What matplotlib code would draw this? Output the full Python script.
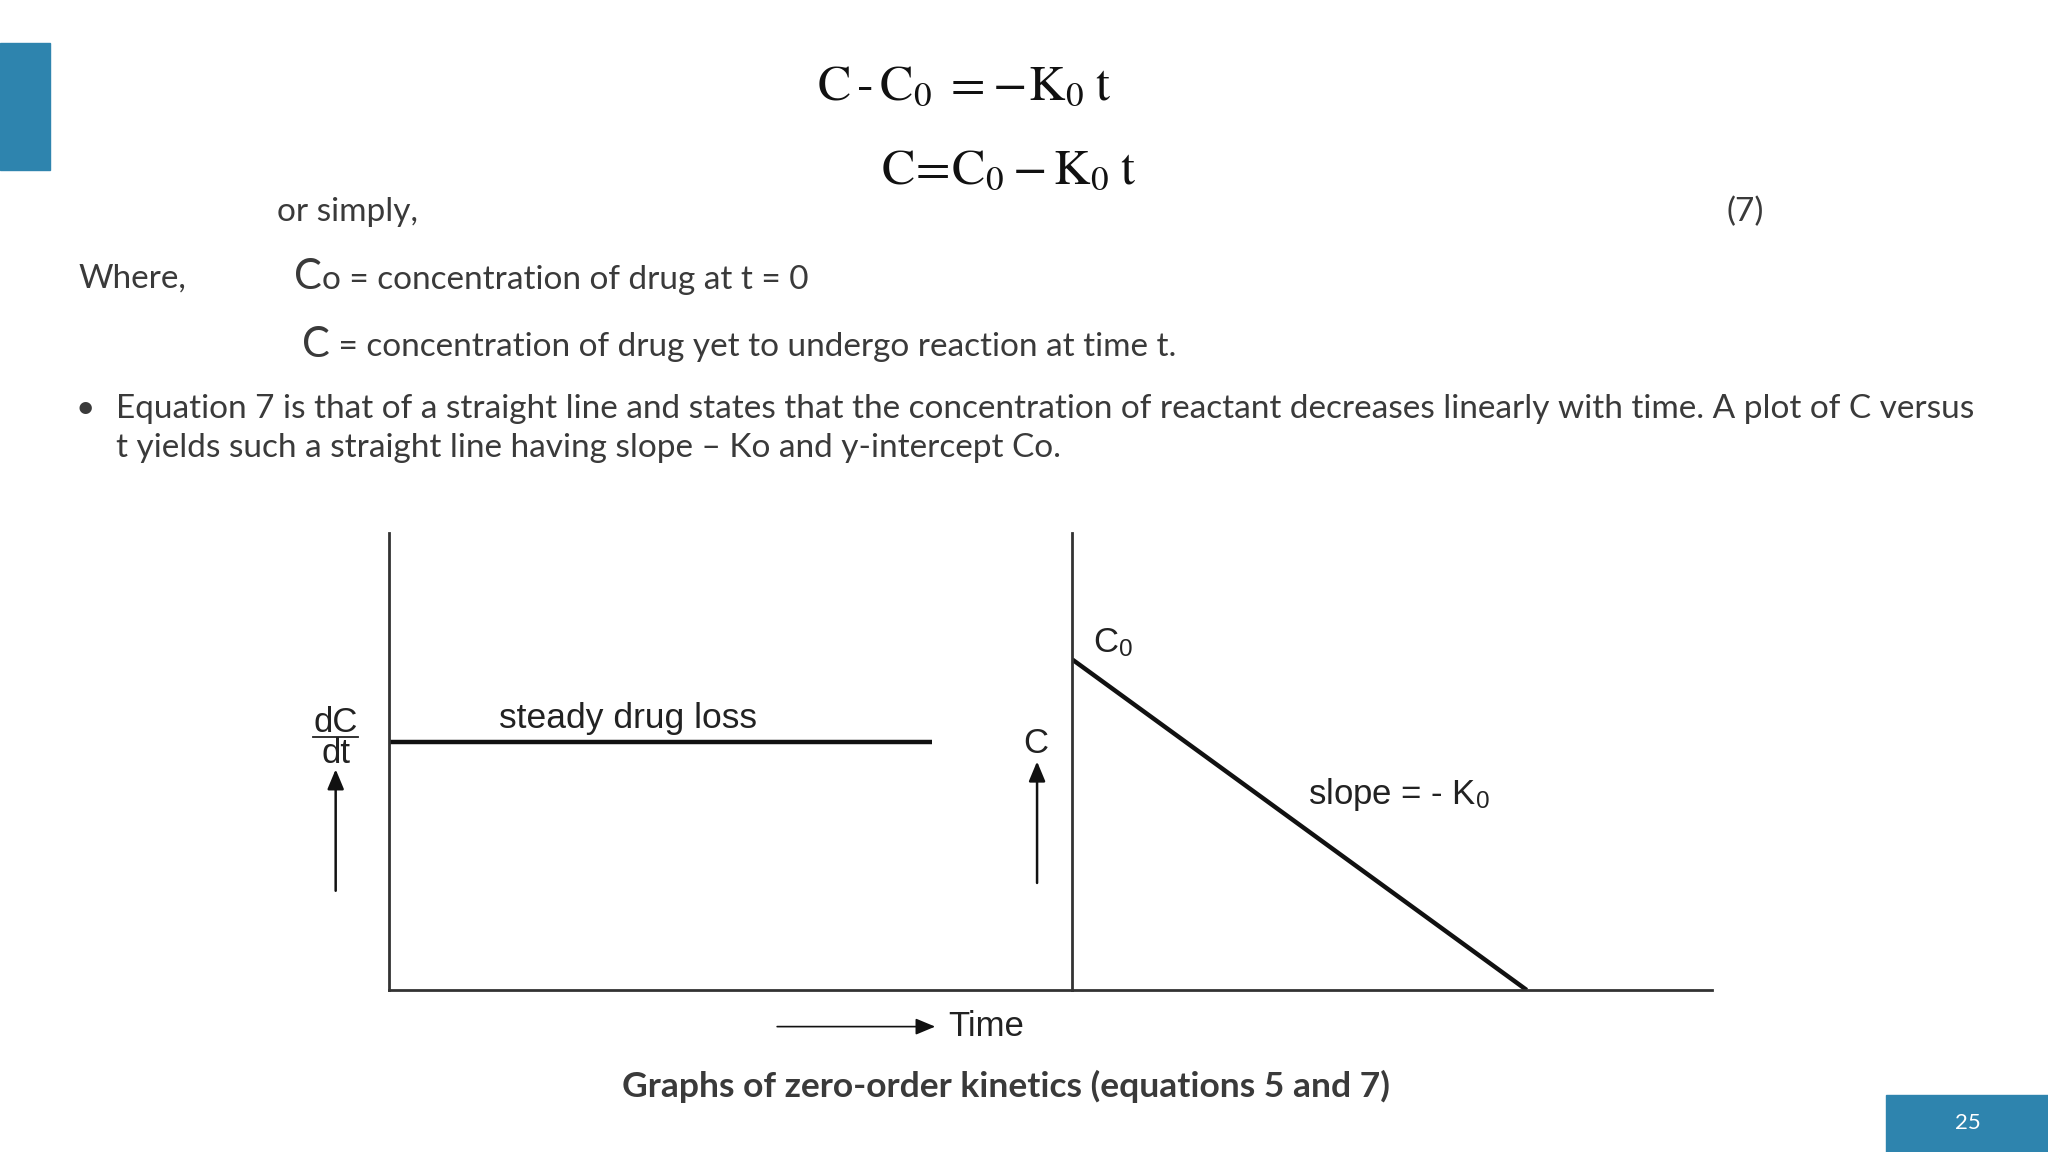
import matplotlib.pyplot as plt
from matplotlib.patches import Rectangle, FancyArrowPatch

# datos de las dos graficas (unidades arbitrarias)
tiempo_perdida = [0, 7.95]
tasa_perdida = [5.43, 5.43]
tiempo_conc = [0, 7.1]
concentracion = [7.23, 0]

azul = '#2E84AE'
gris = '#3A3A3A'
W, H = 1568.0, 882.0


def fx(x):
    return x / W


def fy(y):
    return 1 - y / H


fig = plt.figure(figsize=(20.48, 11.52), dpi=100)
fig.patch.set_facecolor('white')
plt.rcParams['mathtext.fontset'] = 'stix'

# barras azules de la plantilla
fig.patches.append(Rectangle((0, fy(130)), fx(38), fy(33) - fy(130),
                             transform=fig.transFigure, color=azul))
fig.patches.append(Rectangle((fx(1444), 0), 1 - fx(1444), fy(838),
                             transform=fig.transFigure, color=azul))
fig.text(fx(1507), fy(860), '25', color='white', fontsize=16,
         family='Lato', ha='center', va='center')

# ecuaciones
fig.text(fx(738), fy(66), r'$\mathrm{C\,\text{-}\,C_0\;=\!-\!K_0\;t}$', fontsize=36,
         ha='center', va='center', color='#111111')
fig.text(fx(772), fy(130), r'$\mathrm{C\!=\!C_0-K_0\;t}$', fontsize=36,
         ha='center', va='center', color='#111111')

cuerpo = dict(family='Lato', fontsize=24, color=gris, va='center')
fig.text(fx(212), fy(162), 'or simply,', **cuerpo)
fig.text(fx(1322), fy(162), '(7)', **cuerpo)
fig.text(fx(60), fy(213), 'Where,', **cuerpo)
c1 = fig.text(fx(225), fy(212), 'C', family='Lato', fontsize=30, color=gris, va='center')
fig.add_artist(plt.Annotation('o = concentration of drug at t = 0', xy=(1.0, fy(214)),
                              xycoords=(c1, 'figure fraction'), ha='left', **cuerpo))
c2 = fig.text(fx(231), fy(264), 'C', family='Lato', fontsize=30, color=gris, va='center')
fig.add_artist(plt.Annotation(' = concentration of drug yet to undergo reaction at time t.',
                              xy=(1.0, fy(266)), xycoords=(c2, 'figure fraction'),
                              ha='left', **cuerpo))
fig.text(fx(58), fy(313), '\u2022', **cuerpo)
fig.text(fx(89), fy(313), 'Equation 7 is that of a straight line and states that the concentration of '
         'reactant decreases linearly with time. A plot of C versus', **cuerpo)
fig.text(fx(89), fy(343), 't yields such a straight line having slope \u2013 Ko and y-intercept Co.', **cuerpo)

# grafica izquierda: dC/dt
ax1 = fig.add_axes([fx(298), fy(758), fx(821) - fx(298), fy(408) - fy(758)])
ax1.plot(tiempo_perdida, tasa_perdida, color='#111111', lw=3.2, solid_capstyle='butt')
ax1.set_xlim(0, 10)
ax1.set_ylim(0, 10)

# grafica derecha: C
ax2 = fig.add_axes([fx(821), fy(758), fx(1311) - fx(821), fy(408) - fy(758)])
ax2.plot(tiempo_conc, concentracion, color='#111111', lw=3.2, solid_capstyle='butt')
ax2.set_xlim(0, 10)
ax2.set_ylim(0, 10)

for ax in (ax1, ax2):
    ax.set_xticks([])
    ax.set_yticks([])
    ax.spines['top'].set_visible(False)
    ax.spines['right'].set_visible(False)
    for s in ('left', 'bottom'):
        ax.spines[s].set_linewidth(2.0)
        ax.spines[s].set_color('#333333')
    ax.patch.set_alpha(0)

etiq = dict(family='Liberation Sans', color='#222222', ha='center', va='center')
fig.text(fx(481), fy(550), 'steady drug loss', fontsize=25.5, **etiq)
fig.text(fx(257), fy(553), 'dC', fontsize=25, **etiq)
fig.lines.append(plt.Line2D([fx(240), fx(274)], [fy(564), fy(564)],
                            transform=fig.transFigure, color='#222222', lw=1.3))
fig.text(fx(257), fy(577), 'dt', fontsize=25, **etiq)
fig.text(fx(793), fy(569), 'C', fontsize=25, **etiq)
fig.text(fx(852), fy(492), r'C$_\mathregular{0}$', fontsize=25, **etiq)
fig.text(fx(1071), fy(608), r'slope = - K$_\mathregular{0}$', fontsize=25, **etiq)
fig.text(fx(755), fy(786), 'Time', fontsize=25, **etiq)

flecha = dict(arrowstyle='-|>,head_length=0.6,head_width=0.25', color='#111111',
              lw=1.8, mutation_scale=20, shrinkA=0, shrinkB=0)
fig.add_artist(FancyArrowPatch((fx(257), fy(682)), (fx(257), fy(589)),
                               transform=fig.transFigure, **flecha))
fig.add_artist(FancyArrowPatch((fx(794), fy(676)), (fx(794), fy(583)),
                               transform=fig.transFigure, **flecha))
fig.add_artist(FancyArrowPatch((fx(595), fy(786)), (fx(716), fy(786)),
                               transform=fig.transFigure,
                               arrowstyle='-|>,head_length=0.6,head_width=0.25',
                               color='#111111', lw=1.2, mutation_scale=20,
                               shrinkA=0, shrinkB=0))

fig.text(fx(770), fy(832), 'Graphs of zero-order kinetics (equations 5 and 7)',
         family='Lato', fontsize=25.5, fontweight='bold', color=gris,
         ha='center', va='center')

plt.savefig('out.png', dpi=100)
